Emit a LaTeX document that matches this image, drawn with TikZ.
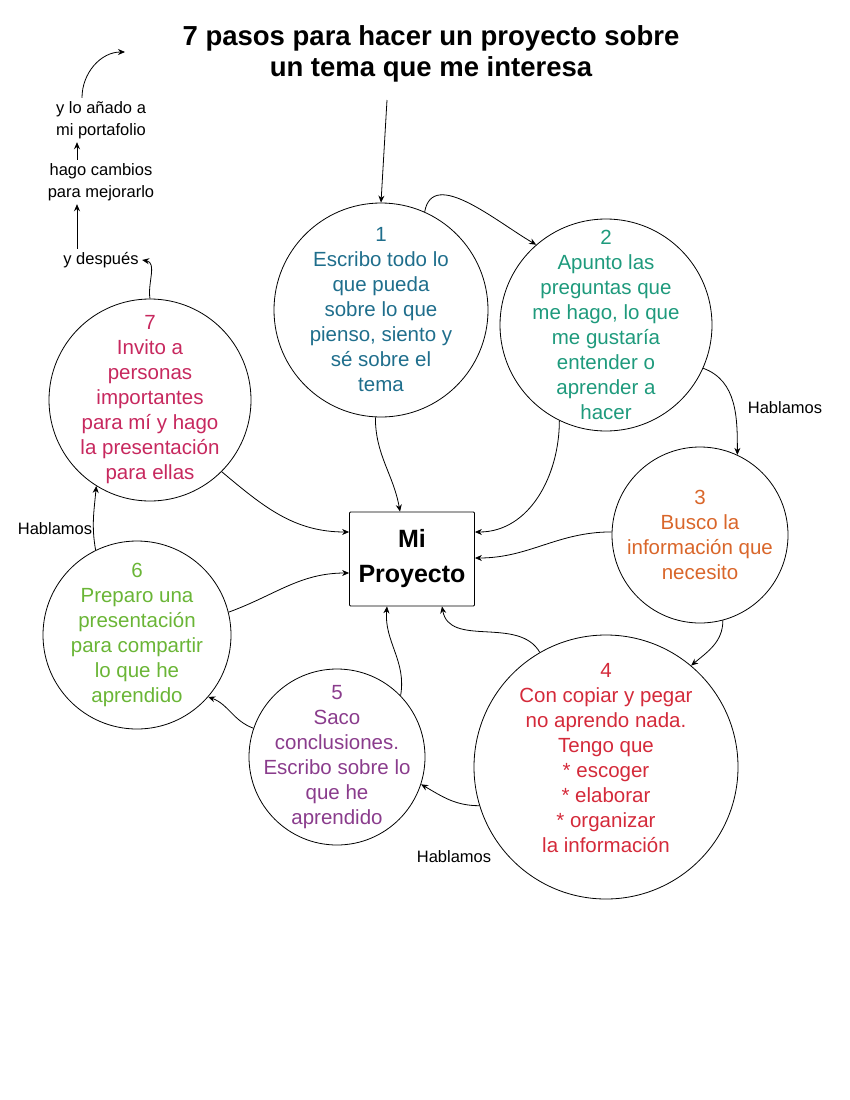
\documentclass[tikz,border=0pt]{standalone}
\usepackage{fontspec}
\setmainfont{Liberation Sans}
\usetikzlibrary{positioning,arrows.meta}
\definecolor{cuno}{HTML}{1F6E8C}
\definecolor{cdos}{HTML}{1E9A7C}
\definecolor{ctres}{HTML}{D9662A}
\definecolor{ccuatro}{HTML}{D42A3A}
\definecolor{ccinco}{HTML}{8A3C8C}
\definecolor{cseis}{HTML}{6AB536}
\definecolor{csiete}{HTML}{C7285E}
\begin{document}
\begin{tikzpicture}[x=1pt,y=-1pt,%
  paso/.style={draw=black,thick,circle,inner sep=0pt},
  txt/.style={align=center,font=\fontsize{20.5}{25}\selectfont},
  note/.style={align=center,font=\fontsize{16.5}{22}\selectfont},
  link/.style={draw=black,thick,-{Stealth[length=7pt,width=6pt]}},
  box/.style={draw=black,thick,rounded corners=1pt,minimum width=125pt,minimum height=94pt,align=center,font=\bfseries\fontsize{25}{35}\selectfont}
]
  \useasboundingbox (0,0) rectangle (850,1100);
  \node [font=\bfseries\fontsize{27.5}{31}\selectfont,align=center] (title) at (431,54) {7 pasos para hacer un proyecto sobre\\un tema que me interesa};
  \node [box] (mi) at (412,559) {Mi\\Proyecto};

  \node [paso,minimum size=214pt] (c1) at (381,310) {};
  \node [paso,minimum size=212pt] (c2) at (606,325) {};
  \node [paso,minimum size=176pt] (c3) at (700,535) {};
  \node [paso,minimum size=264pt] (c4) at (606,767) {};
  \node [paso,minimum size=176pt] (c5) at (337,757) {};
  \node [paso,minimum size=188pt] (c6) at (137,635) {};
  \node [paso,minimum size=202pt] (c7) at (150,400) {};

  \node [txt,text=cuno] (t1) at (c1) {1\\Escribo todo lo\\que pueda\\sobre lo que\\pienso, siento y\\sé sobre el\\tema};
  \node [txt,text=cdos] (t2) at (c2) {2\\Apunto las\\preguntas que\\me hago, lo que\\me gustaría\\entender o\\aprender a\\hacer};
  \node [txt,text=ctres] (t3) at (c3) {3\\Busco la\\información que\\necesito};
  \node [txt,text=ccuatro] (t4) at (606,758) {4\\Con copiar y pegar\\no aprendo nada.\\Tengo que\\* escoger\\* elaborar\\* organizar\\la información};
  \node [txt,text=ccinco] (t5) at (c5) {5\\Saco\\conclusiones.\\Escribo sobre lo\\que he\\aprendido};
  \node [txt,text=cseis] (t6) at (c6) {6\\Preparo una\\presentación\\para compartir\\lo que he\\aprendido};
  \node [txt,text=csiete] (t7) at (c7) {7\\Invito a\\personas\\importantes\\para mí y hago\\la presentación\\para ellas};

  \node [note] (despues) at (101,260) {y después};
  \node [note] (cambios) at (101,182) {hago cambios\\para mejorarlo};
  \node [note] (anado) at (101,120) {y lo añado a\\mi portafolio};
  \coordinate (fin) at (125,52);
  \coordinate (arriba) at (387,100);

  \node [note] (h23) at (785,408) {Hablamos};
  \node [note] (h67) at (55,529) {Hablamos};
  \node [note] (h45) at (454,857) {Hablamos};

  % pasos
  \draw [link] (arriba) -- (c1.north);
  \draw [link] (c1.66) to[out=80,in=150] (c2.131);
  \draw [link] (c2.-24) to[out=-20,in=90] (c3.65);
  \draw [link] (c3.-75) to[out=-90,in=40] (c4.50);
  \draw [link] (c4.197) to[out=180,in=-30] (c5.-18);
  \draw [link] (c5.161) to[out=160,in=-20] (c6.-41);
  \draw [link] (c6.116) to[out=100,in=-95] (c7.-122);
  \draw [link] (c7.90) to[out=100,in=-10] (despues.east);
  \draw [link] (despues.north -| 77,0) -- (cambios.south -| 77,0);
  \draw [link] (cambios.north -| 77,0) -- (anado.south -| 77,0);
  \draw [link] (anado.north -| 82,0) to[out=90,in=180] (fin);

  % al proyecto
  \draw [link] (c1.-93) to[out=-90,in=100] (mi.north -| 400,0);
  \draw [link] (c2.-116) to[out=-90,in=0] (mi.east |- 0,532);
  \draw [link] (c3.178) to[out=180,in=0] (mi.east |- 0,558);
  \draw [link] (c4.120) to[out=120,in=-80] (mi.south -| 442,0);
  \draw [link] (c5.44) to[out=80,in=-95] (mi.south -| 387,0);
  \draw [link] (c6.14) to[out=20,in=180] (mi.west |- 0,573);
  \draw [link] (c7.-45) to[out=-40,in=180] (mi.west |- 0,532);
\end{tikzpicture}
\end{document}
